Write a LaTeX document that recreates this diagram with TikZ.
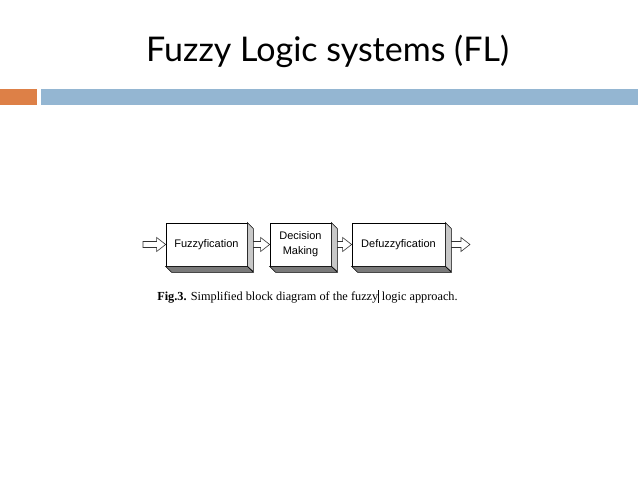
\documentclass[tikz,border=0pt]{standalone}
\usepackage{fontspec}
\setmainfont{Liberation Serif}
\newfontfamily\titlefont{Lato}
\newfontfamily\blockfont{Liberation Sans}
\usetikzlibrary{calc}
\definecolor{barorange}{HTML}{DD8047}
\definecolor{barblue}{HTML}{94B6D2}
\definecolor{sidegray}{HTML}{C8C8C8}
\definecolor{botgray}{HTML}{7A7A7A}
\tikzset{
  blk/.style={draw=black, line width=0.7pt, fill=white, minimum height=43, inner sep=0pt,
    align=center, font=\blockfont\fontsize{11}{15}\selectfont},
  arw/.style={draw=black!80, line width=0.6pt, fill=white, line join=miter},
  face/.style={draw=black, line width=0.6pt, line join=miter}
}
\newcommand{\extrude}[1]{%
  \filldraw[face, fill=sidegray] (#1.north east) -- ++(6,-6) -- ++(0,-43) -- (#1.south east) -- cycle;
  \filldraw[face, fill=botgray] (#1.south west) -- (#1.south east) -- ++(6,-6) -- ($(#1.south west)+(6,-6)$) -- cycle;
}
\newcommand{\harrow}[2]{%
  \draw[arw] let \p1=(#1), \p2=(#2) in
    (\x1,\y1+3pt) -- (\x2-9pt,\y1+3pt) -- (\x2-9pt,\y1+7pt) -- (\x2,\y1) --
    (\x2-9pt,\y1-7pt) -- (\x2-9pt,\y1-3pt) -- (\x1,\y1-3pt) -- cycle;
}
\begin{document}
\begin{tikzpicture}[x=1pt,y=1pt]
\useasboundingbox (0,0) rectangle (638,479);
\fill[white] (0,0) rectangle (638,479);
% title
\node[anchor=base west, inner sep=0pt, font=\titlefont\fontsize{34}{37}\selectfont] (title) at (146,417) {Fuzzy Logic systems (FL)};
% bars
\fill[barorange] (0,374) rectangle (37,390);
\fill[barblue] (41,374) rectangle (638,390);
% blocks
\node[blk, minimum width=81] (fz) at (206.5,234.5) {Fuzzyfication};
\node[blk, minimum width=61] (dm) at (300.5,234.5) {Decision\\Making};
\node[blk, minimum width=93] (df) at (398.5,234.5) {Defuzzyfication};
\extrude{fz}
\extrude{dm}
\extrude{df}
% connector end points
\coordinate (in) at (143,234.5);
\coordinate (out) at (470,234.5);
\coordinate (fzr) at ($(fz.east)+(6,0)$);
\coordinate (dmr) at ($(dm.east)+(6,0)$);
\coordinate (dfr) at ($(df.east)+(6,0)$);
\harrow{in}{fz.west}
\harrow{fzr}{dm.west}
\harrow{dmr}{df.west}
\harrow{dfr}{out}
% caption
\node[anchor=base, inner sep=0pt, font=\fontsize{12.3}{14}\selectfont] (cap) at (307.5,178)
  {\textbf{Fig.3.} Simplified block diagram of the fuzzy\rule[-2pt]{0.5pt}{13pt} logic approach.};
\end{tikzpicture}
\end{document}
